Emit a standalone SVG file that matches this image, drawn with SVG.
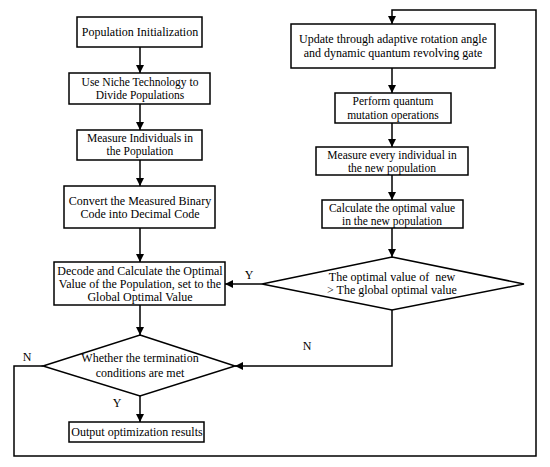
<svg xmlns="http://www.w3.org/2000/svg" width="550" height="467" viewBox="0 0 550 467">
<style>
.b{fill:#fff;stroke:#000;stroke-width:1.5}
.l{fill:none;stroke:#000;stroke-width:1.5}
text{font-family:"Liberation Serif","Times New Roman",serif;font-size:12px;fill:#000;text-anchor:middle}
.s{font-size:11.5px}
</style>
<defs>
<marker id="a" markerWidth="8" markerHeight="8" refX="8" refY="4" orient="auto" markerUnits="userSpaceOnUse">
<path d="M0,0 L8,4 L0,8 Z" fill="#000"/>
</marker>
</defs>
<rect width="550" height="467" fill="#fff"/>
<g id="connectors">
<line class="l" x1="140" y1="47" x2="140" y2="73" marker-end="url(#a)"/>
<line class="l" x1="140" y1="104" x2="140" y2="130" marker-end="url(#a)"/>
<line class="l" x1="140" y1="160" x2="140" y2="186" marker-end="url(#a)"/>
<line class="l" x1="140" y1="228" x2="140" y2="262" marker-end="url(#a)"/>
<line class="l" x1="140" y1="305" x2="140" y2="335" marker-end="url(#a)"/>
<line class="l" x1="140" y1="396" x2="140" y2="422" marker-end="url(#a)"/>
<polyline class="l" points="43,366 14,366 14,456 536,456 536,10 392,10 392,24" marker-end="url(#a)"/>
<line class="l" x1="392" y1="68" x2="392" y2="93" marker-end="url(#a)"/>
<line class="l" x1="392" y1="123" x2="392" y2="147" marker-end="url(#a)"/>
<line class="l" x1="392" y1="175" x2="392" y2="200" marker-end="url(#a)"/>
<line class="l" x1="392" y1="228" x2="392" y2="257" marker-end="url(#a)"/>
<line class="l" x1="262" y1="284" x2="225" y2="284" marker-end="url(#a)"/>
<polyline class="l" points="392,310 392,366 235,366" marker-end="url(#a)"/>
<text x="249" y="279">Y</text>
<text x="307" y="350">N</text>
<text x="27" y="361">N</text>
<text x="117" y="407">Y</text>
</g>
<g id="n1"><rect class="b" x="77" y="17" width="125" height="30"/><text x="140" y="36">Population Initialization</text></g>
<g id="n2"><rect class="b" x="69" y="73" width="141" height="31"/><text class="s" x="140" y="86">Use Niche Technology to</text><text class="s" x="140" y="99">Divide Populations</text></g>
<g id="n3"><rect class="b" x="77" y="130" width="125" height="30"/><text class="s" x="140" y="142">Measure Individuals in</text><text class="s" x="140" y="155">the Population</text></g>
<g id="n4"><rect class="b" x="64" y="186" width="151" height="42"/><text x="140" y="205">Convert the Measured Binary</text><text x="140" y="218">Code into Decimal Code</text></g>
<g id="n5"><rect class="b" x="54" y="262" width="171" height="43"/><text x="140" y="275">Decode and Calculate the Optimal</text><text x="140" y="288">Value of the Population, set to the</text><text x="140" y="301">Global Optimal Value</text></g>
<g id="d2"><polygon class="b" points="140,335 235,366 140,396 43,366"/><text x="140" y="362">Whether the termination</text><text x="140" y="377">conditions are met</text></g>
<g id="n6"><rect class="b" x="69" y="422" width="135" height="20"/><text x="137" y="436">Output optimization results</text></g>
<g id="r1"><rect class="b" x="291" y="24" width="204" height="44"/><text x="393" y="43">Update through adaptive rotation angle</text><text x="393" y="57">and dynamic quantum revolving gate</text></g>
<g id="r2"><rect class="b" x="335" y="93" width="116" height="30"/><text class="s" x="393" y="105">Perform quantum</text><text class="s" x="393" y="118.5">mutation operations</text></g>
<g id="r3"><rect class="b" x="316" y="147" width="152" height="28"/><text class="s" x="392" y="159">Measure every individual in</text><text class="s" x="392" y="171.5">the new population</text></g>
<g id="r4"><rect class="b" x="322" y="200" width="141" height="28"/><text class="s" x="392" y="212">Calculate the optimal value</text><text class="s" x="392" y="224.5">in the new population</text></g>
<g id="d1"><polygon class="b" points="392,257 524,284 392,310 262,284"/><text x="392" y="281" xml:space="preserve">The optimal value of  new</text><text x="392" y="294">&gt; The global optimal value</text></g>
</svg>
